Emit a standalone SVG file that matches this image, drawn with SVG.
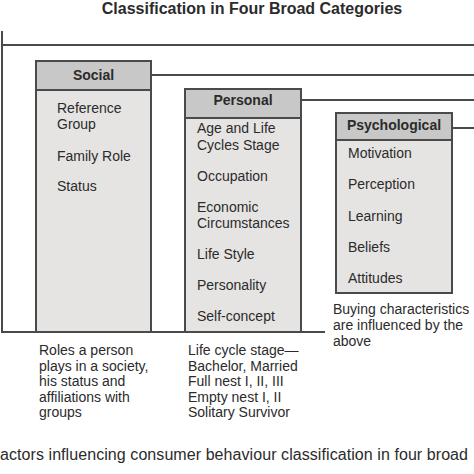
<svg xmlns="http://www.w3.org/2000/svg" width="474" height="474" viewBox="0 0 474 474">
<style>
text{font-family:"Liberation Sans",Arial,sans-serif;fill:#2b2b2b}
.t{font-size:14px}
.h{font-size:14px;font-weight:bold;text-anchor:middle}
.title{font-size:16px;font-weight:bold;text-anchor:middle}
.cap{font-size:16px}
.hd{fill:#c8c8c8;stroke:#4a4a4a;stroke-width:2}
.bd{fill:#e6e4e2;stroke:#4a4a4a;stroke-width:2}
.ln{stroke:#4a4a4a;stroke-width:2;fill:none}
</style>
<rect width="474" height="474" fill="#ffffff"/>
<text class="title" x="252" y="14">Classification in Four Broad Categories</text>
<g id="connectors">
<path class="ln" d="M2 31V332"/>
<path class="ln" d="M2 45H474"/>
<path class="ln" d="M151 75H474"/>
<path class="ln" d="M301 100H474"/>
<path class="ln" d="M452 128H474"/>
<path class="ln" d="M1 332H325"/>
</g>
<g id="social">
<rect class="bd" x="36" y="90" width="115" height="242"/>
<rect class="hd" x="36" y="61" width="115" height="29"/>
<text class="h" x="93.5" y="80">Social</text>
<text class="t" x="57" y="113">Reference</text>
<text class="t" x="57" y="129">Group</text>
<text class="t" x="57" y="161">Family Role</text>
<text class="t" x="57" y="191">Status</text>
</g>
<g id="personal">
<rect class="bd" x="185" y="118" width="116" height="214"/>
<rect class="hd" x="185" y="89" width="116" height="29"/>
<text class="h" x="243" y="105">Personal</text>
<text class="t" x="197" y="133">Age and Life</text>
<text class="t" x="197" y="150">Cycles Stage</text>
<text class="t" x="197" y="181">Occupation</text>
<text class="t" x="197" y="212">Economic</text>
<text class="t" x="197" y="228">Circumstances</text>
<text class="t" x="197" y="259">Life Style</text>
<text class="t" x="197" y="290">Personality</text>
<text class="t" x="197" y="321">Self-concept</text>
</g>
<g id="psychological">
<rect class="bd" x="336" y="140" width="116" height="153"/>
<rect class="hd" x="336" y="113" width="116" height="27"/>
<text class="h" x="394" y="130">Psychological</text>
<text class="t" x="348" y="158">Motivation</text>
<text class="t" x="348" y="189">Perception</text>
<text class="t" x="348" y="221">Learning</text>
<text class="t" x="348" y="252">Beliefs</text>
<text class="t" x="348" y="283">Attitudes</text>
</g>
<g id="notes">
<text class="t" x="333" y="314">Buying characteristics</text>
<text class="t" x="333" y="330">are influenced by the</text>
<text class="t" x="333" y="346">above</text>
<text class="t" x="39" y="355">Roles a person</text>
<text class="t" x="39" y="371">plays in a society,</text>
<text class="t" x="39" y="386">his status and</text>
<text class="t" x="39" y="402">affiliations with</text>
<text class="t" x="39" y="417">groups</text>
<text class="t" x="188" y="355">Life cycle stage—</text>
<text class="t" x="188" y="371">Bachelor, Married</text>
<text class="t" x="188" y="386">Full nest I, II, III</text>
<text class="t" x="188" y="402">Empty nest I, II</text>
<text class="t" x="188" y="417">Solitary Survivor</text>
</g>
<text class="cap" x="0" y="460" textLength="468" lengthAdjust="spacing">actors influencing consumer behaviour classification in four broad</text>
</svg>
